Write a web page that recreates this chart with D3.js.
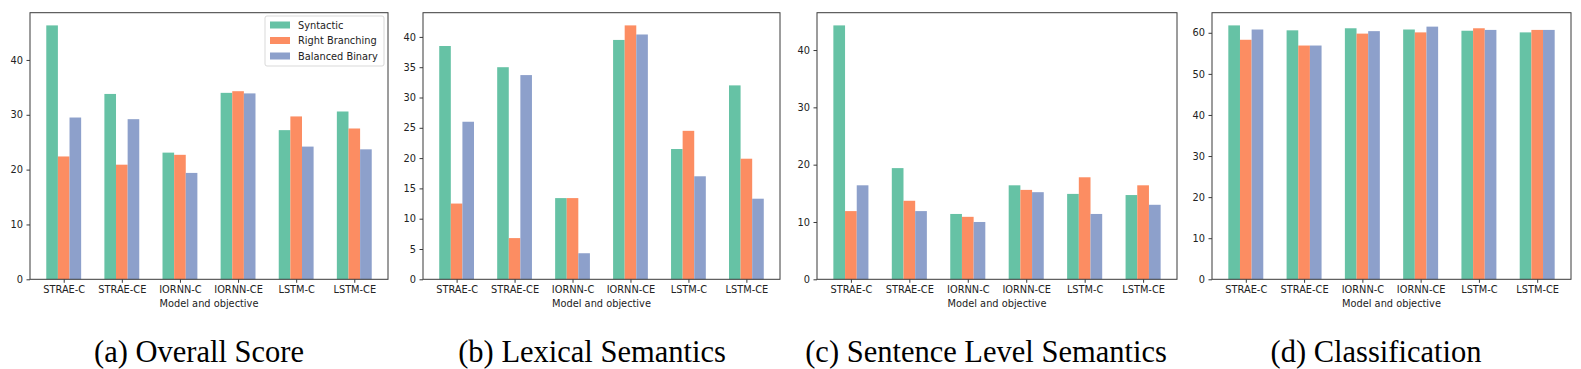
<!DOCTYPE html>
<html>
<head>
<meta charset="utf-8">
<script src="https://cdn.jsdelivr.net/npm/d3@7"></script>
<style>
  body { margin: 0; background: #fff; }
  svg text { fill: #222; }
  .tick text { font-family: "DejaVu Sans", sans-serif; font-size: 9.8px; }
  .caption { font-family: "Liberation Serif", "Times New Roman", serif; font-size: 30.5px; fill: #000; }
</style>
</head>
<body>
<div id="chart"></div>
<script>
// model / objective categories on the x axis
const models = ['STRAE-C', 'STRAE-CE', 'IORNN-C', 'IORNN-CE', 'LSTM-C', 'LSTM-CE'];
const seriesNames = ['Syntactic', 'Right Branching', 'Balanced Binary'];
const seriesColors = ['#66c2a5', '#fc8d62', '#8da0cb'];

// (a) overall score
const overallSyn = [46.3, 33.8, 23.1, 34.0, 27.2, 30.6];
const overallRB  = [22.4, 20.9, 22.7, 34.3, 29.7, 27.5];
const overallBB  = [29.5, 29.2, 19.4, 33.9, 24.2, 23.7];

// (b) lexical semantics
const lexicalSyn = [38.5, 35.0, 13.4, 39.5, 21.5, 32.0];
const lexicalRB  = [12.5, 6.8, 13.4, 41.9, 24.5, 19.9];
const lexicalBB  = [26.0, 33.7, 4.3, 40.4, 17.0, 13.3];

// (c) sentence level semantics
const sentenceSyn = [44.3, 19.4, 11.4, 16.4, 14.9, 14.7];
const sentenceRB  = [11.9, 13.7, 10.9, 15.6, 17.8, 16.4];
const sentenceBB  = [16.4, 11.9, 10.0, 15.2, 11.4, 13.0];

// (d) classification
const classSyn = [61.8, 60.6, 61.1, 60.8, 60.5, 60.1];
const classRB  = [58.3, 56.9, 59.8, 60.1, 61.1, 60.7];
const classBB  = [60.8, 56.9, 60.4, 61.5, 60.7, 60.7];

const panels = [
    {caption: '(a) Overall Score', series: [overallSyn, overallRB, overallBB], tickStep: 10,
     left: 30, right: 388, capX: 199, legend: true},
    {caption: '(b) Lexical Semantics', series: [lexicalSyn, lexicalRB, lexicalBB], tickStep: 5,
     left: 423, right: 780, capX: 592, legend: false},
    {caption: '(c) Sentence Level Semantics', series: [sentenceSyn, sentenceRB, sentenceBB], tickStep: 10,
     left: 817, right: 1177, capX: 986, legend: false},
    {caption: '(d) Classification', series: [classSyn, classRB, classBB], tickStep: 10,
     left: 1212, right: 1571, capX: 1376, legend: false}
];

const W = 1581, H = 369;
const plotTop = 12.7, plotBottom = 279.3;
const barW = 0.2;

const svg = d3.select('#chart').append('svg')
    .attr('width', W)
    .attr('height', H);

panels.forEach(p => {
    const g = svg.append('g');

    const x = d3.scaleLinear()
        .domain([-0.58, models.length - 1 + 0.58])
        .range([p.left, p.right]);

    const maxVal = d3.max(p.series, s => d3.max(s));
    const y = d3.scaleLinear()
        .domain([0, maxVal * 1.05])
        .range([plotBottom, plotTop]);

    // bars
    p.series.forEach((vals, si) => {
        const offset = (si - 1) * barW;
        g.selectAll(null)
            .data(vals)
            .enter()
            .append('rect')
            .attr('x', (d, i) => x(i + offset - barW / 2))
            .attr('y', d => y(d))
            .attr('width', x(barW) - x(0))
            .attr('height', d => y(0) - y(d))
            .attr('fill', seriesColors[si]);
    });

    // frame
    g.append('rect')
        .attr('x', p.left)
        .attr('y', plotTop)
        .attr('width', p.right - p.left)
        .attr('height', plotBottom - plotTop)
        .attr('fill', 'none')
        .attr('stroke', '#3a3a3a')
        .attr('stroke-width', 1);

    // axes
    const xAxis = d3.axisBottom(x)
        .tickValues(d3.range(models.length))
        .tickFormat(i => models[i])
        .tickSize(3.5)
        .tickPadding(3.5);
    const xg = g.append('g')
        .attr('transform', `translate(0,${plotBottom})`)
        .call(xAxis);
    xg.select('.domain').remove();
    xg.selectAll('.tick line').attr('stroke', '#3a3a3a');

    const yTicks = d3.range(0, maxVal * 1.05, p.tickStep);
    const yAxis = d3.axisLeft(y)
        .tickValues(yTicks)
        .tickFormat(d3.format('d'))
        .tickSize(3.5)
        .tickPadding(3.5);
    const yg = g.append('g')
        .attr('transform', `translate(${p.left},0)`)
        .call(yAxis);
    yg.select('.domain').remove();
    yg.selectAll('.tick line').attr('stroke', '#3a3a3a');

    // x axis title
    g.append('text')
        .attr('x', (p.left + p.right) / 2)
        .attr('y', 307)
        .attr('text-anchor', 'middle')
        .style('font-family', '"DejaVu Sans", sans-serif')
        .style('font-size', '9.8px')
        .text('Model and objective');

    // caption below the panel
    g.append('text')
        .attr('class', 'caption')
        .attr('x', p.capX)
        .attr('y', 362)
        .attr('text-anchor', 'middle')
        .text(p.caption);

    if (p.legend) {
        const lx = 265, ly = 16;
        const legend = g.append('g').attr('transform', `translate(${lx},${ly})`);
        legend.append('rect')
            .attr('width', 119)
            .attr('height', 50)
            .attr('rx', 2)
            .attr('fill', '#fff')
            .attr('fill-opacity', 0.8)
            .attr('stroke', '#d9d9d9');
        seriesNames.forEach((name, i) => {
            const row = legend.append('g').attr('transform', `translate(5,${9 + i * 15.5})`);
            row.append('rect')
                .attr('x', 0)
                .attr('y', -3.5)
                .attr('width', 20)
                .attr('height', 7)
                .attr('fill', seriesColors[i]);
            row.append('text')
                .attr('x', 28)
                .attr('y', 3.5)
                .style('font-family', '"DejaVu Sans", sans-serif')
                .style('font-size', '9.8px')
                .text(name);
        });
    }
});
</script>
</body>
</html>
